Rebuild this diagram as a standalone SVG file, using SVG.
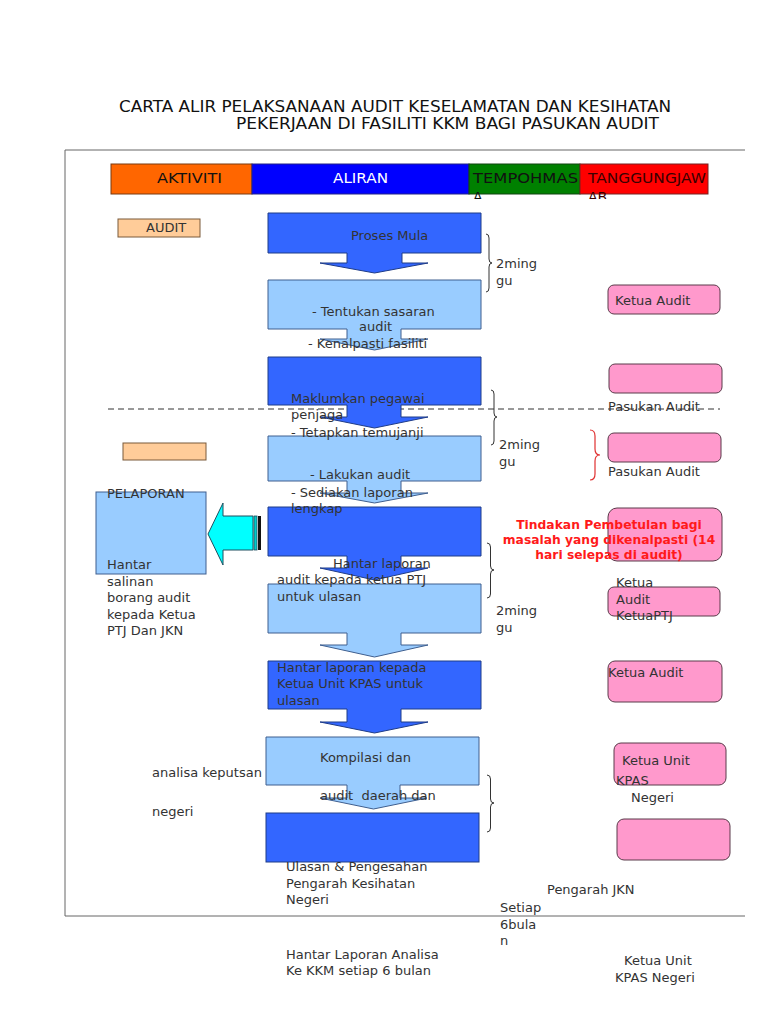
<svg xmlns="http://www.w3.org/2000/svg" width="768" height="1024" viewBox="0 0 768 1024">
<style>
text{font-family:"DejaVu Sans","Liberation Sans",sans-serif;font-size:13px;fill:#333}
.title{font-size:16px;fill:#111}
.hdr{font-size:14px}
.dk{fill:#3366FF;stroke:#1F3C88;stroke-width:1}
.lt{fill:#99CCFF;stroke:#3F5F8F;stroke-width:1}
.pk{fill:#FF99CC;stroke:#5A3A4A;stroke-width:1}
.or{fill:#FFCC99;stroke:#7A5A3A;stroke-width:1}
.br{fill:none;stroke:#333;stroke-width:1}
.red{font-weight:bold;font-size:12.3px;fill:#FF1A1A}
</style>
<defs>
<clipPath id="hclip"><rect x="460" y="160" width="260" height="39"/></clipPath>
</defs>
<rect width="768" height="1024" fill="#fff"/>
<g id="title">
<text class="title" x="119" y="112" textLength="552" lengthAdjust="spacingAndGlyphs">CARTA ALIR PELAKSANAAN AUDIT KESELAMATAN DAN KESIHATAN</text>
<text class="title" x="236" y="129" textLength="423" lengthAdjust="spacingAndGlyphs">PEKERJAAN DI FASILITI KKM BAGI PASUKAN AUDIT</text>
</g>
<g id="frame" stroke="#666" stroke-width="1" fill="none">
<path d="M745,150 H65 V916 H745"/>
</g>
<g id="header">
<rect x="111" y="164" width="141" height="30" fill="#FF6600" stroke="#7A3A10"/>
<rect x="252" y="164" width="217" height="30" fill="#0000FF" stroke="#222288"/>
<rect x="469" y="164" width="111" height="30" fill="#008000" stroke="#114411"/>
<rect x="580" y="164" width="128" height="30" fill="#FF0000" stroke="#772222"/>
<text class="hdr" x="157" y="183" textLength="65" lengthAdjust="spacingAndGlyphs" style="fill:#111">AKTIVITI</text>
<text class="hdr" x="333" y="183" textLength="55" lengthAdjust="spacingAndGlyphs" style="fill:#fff">ALIRAN</text>
<g clip-path="url(#hclip)">
<text class="hdr" x="473" y="183" textLength="105" lengthAdjust="spacingAndGlyphs" style="fill:#111">TEMPOHMAS</text>
<text class="hdr" x="473" y="202" style="fill:#111">A</text>
<text class="hdr" x="588" y="183" textLength="118" lengthAdjust="spacingAndGlyphs" style="fill:#3a0000">TANGGUNGJAW</text>
<text class="hdr" x="588" y="202" style="fill:#3a0000">AB</text>
</g>
</g>
<g id="dashed">
<line x1="108" y1="409" x2="720" y2="409" stroke="#333" stroke-width="1" stroke-dasharray="6,4"/>
</g>
<g id="flow">
<path id="box1" class="dk" d="M268,213 H481 V253 H402 V263 H428 L374.5,273 L320,263 H347 V253 H268 Z"/>
<path id="box2" class="lt" d="M268,280 H481 V329 H401 V339 H428 L374.5,350 L320,339 H347 V329 H268 Z"/>
<path id="box3" class="dk" d="M268,357 H481 V405 H401 V417 H428 L374.5,428 L320,417 H347 V405 H268 Z"/>
<path id="box4" class="lt" d="M268,436 H481 V481 H401 V493 H428 L374.5,503 L320,493 H347 V481 H268 Z"/>
<path id="box5" class="dk" d="M268,507 H481 V556 H401 V568 H428 L374.5,580 L320,568 H347 V556 H268 Z"/>
<path id="box6" class="lt" d="M268,584 H481 V633 H401 V645 H428 L374.5,657 L320,645 H347 V633 H268 Z"/>
<path id="box7" class="dk" d="M268,661 H481 V709 H401 V722 H428 L374.5,733 L320,722 H347 V709 H268 Z"/>
<path id="box8" class="lt" d="M266,737 H479 V785 H400 V798 H427 L373.5,809 L320,798 H347 V785 H266 Z"/>
<rect id="box9" class="dk" x="266" y="813" width="213" height="49"/>
</g>
<g id="left">
<rect id="auditTag" class="or" x="118" y="219" width="82" height="18"/>
<rect id="orange2" class="or" x="123" y="443" width="83" height="17"/>
<rect id="pelaporan" class="lt" x="96" y="492" width="110" height="82"/>
<g id="cyanArrow">
<path d="M208,534 L223,503 V516 H253 V550 H223 V565 Z" fill="#00FFFF" stroke="#1F4F5F" stroke-width="1"/>
<rect x="254" y="516" width="3" height="34" fill="#00CCCC" stroke="#1F4F5F" stroke-width="0.8"/>
<rect x="258" y="516" width="3" height="34" fill="#111"/>
</g>
</g>
<g id="right">
<rect id="r1" class="pk" x="608" y="285" width="112" height="29" rx="6"/>
<rect id="r2" class="pk" x="609" y="364" width="113" height="29" rx="6"/>
<rect id="r3" class="pk" x="608" y="433" width="113" height="29" rx="6"/>
<rect id="r4" class="pk" x="608" y="508" width="114" height="53" rx="9"/>
<rect id="r5" class="pk" x="608" y="587" width="112" height="29" rx="6"/>
<rect id="r6" class="pk" x="608" y="661" width="114" height="41" rx="7"/>
<rect id="r7" class="pk" x="614" y="743" width="112" height="42" rx="7"/>
<rect id="r8" class="pk" x="617" y="819" width="113" height="41" rx="7"/>
</g>
<g id="connectors">
<path class="br" d="M486,234 Q489,234 489,238 V259 Q489,263 492,263 Q489,263 489,267 V288 Q489,292 486,292"/>
<path class="br" d="M491,390 Q494,390 494,394 V413 Q494,417 497,417 Q494,417 494,421 V441 Q494,445 491,445"/>
<path class="br" d="M487,543 Q490.5,543 490.5,547 V566 Q490.5,570 494,570 Q490.5,570 490.5,574 V594 Q490.5,598 487,598"/>
<path class="br" d="M487,775 Q490.5,775 490.5,779 V799 Q490.5,803 494,803 Q490.5,803 490.5,807 V828 Q490.5,832 487,832"/>
<path d="M590,430 Q595,430 595,436 V449 Q595,455 600,455 Q595,455 595,461 V474 Q595,480 590,480" fill="none" stroke="#E03030" stroke-width="1.2"/>
</g>
<g id="labels">
<text x="146" y="232">AUDIT</text>
<text x="351" y="240">Proses Mula</text>
<text x="496" y="268">2ming</text>
<text x="496" y="285">gu</text>
<text x="615" y="305">Ketua Audit</text>
<text x="312" y="316">- Tentukan sasaran</text>
<text x="359" y="331">audit</text>
<text x="308" y="348">- Kenalpasti fasiliti</text>
<text x="291" y="403">Maklumkan pegawai</text>
<text x="291" y="419">penjaga</text>
<text x="291" y="437">- Tetapkan temujanji</text>
<text x="608" y="411">Pasukan Audit</text>
<text x="499" y="449">2ming</text>
<text x="499" y="466">gu</text>
<text x="608" y="476">Pasukan Audit</text>
<text x="310" y="479">- Lakukan audit</text>
<text x="291" y="497">- Sediakan laporan</text>
<text x="291" y="513">lengkap</text>
<text x="107" y="498">PELAPORAN</text>
<text x="107" y="569">Hantar</text>
<text x="107" y="586">salinan</text>
<text x="107" y="602">borang audit</text>
<text x="107" y="619">kepada Ketua</text>
<text x="107" y="635">PTJ Dan JKN</text>
<text class="red" x="609" y="529" text-anchor="middle">Tindakan Pembetulan bagi</text>
<text class="red" x="609" y="544" text-anchor="middle">masalah yang dikenalpasti (14</text>
<text class="red" x="609" y="559" text-anchor="middle">hari selepas di audit)</text>
<text x="333" y="568">Hantar laporan</text>
<text x="277" y="584">audit kepada ketua PTJ</text>
<text x="277" y="601">untuk ulasan</text>
<text x="616" y="587">Ketua</text>
<text x="616" y="604">Audit</text>
<text x="616" y="620">KetuaPTJ</text>
<text x="496" y="615">2ming</text>
<text x="496" y="632">gu</text>
<text x="277" y="672">Hantar laporan kepada</text>
<text x="277" y="688">Ketua Unit KPAS untuk</text>
<text x="277" y="705">ulasan</text>
<text x="608" y="677">Ketua Audit</text>
<text x="320" y="762">Kompilasi dan</text>
<text x="622" y="765">Ketua Unit</text>
<text x="616" y="785">KPAS</text>
<text x="631" y="802">Negeri</text>
<text x="152" y="777">analisa keputsan</text>
<text x="152" y="816">negeri</text>
<text x="320" y="800" xml:space="preserve">audit  daerah dan</text>
<text x="286" y="871">Ulasan &amp; Pengesahan</text>
<text x="286" y="888">Pengarah Kesihatan</text>
<text x="286" y="904">Negeri</text>
<text x="547" y="894">Pengarah JKN</text>
<text x="500" y="912">Setiap</text>
<text x="500" y="929">6bula</text>
<text x="500" y="945">n</text>
<text x="286" y="959">Hantar Laporan Analisa</text>
<text x="286" y="975">Ke KKM setiap 6 bulan</text>
<text x="624" y="965">Ketua Unit</text>
<text x="615" y="982">KPAS Negeri</text>
</g>
</svg>
